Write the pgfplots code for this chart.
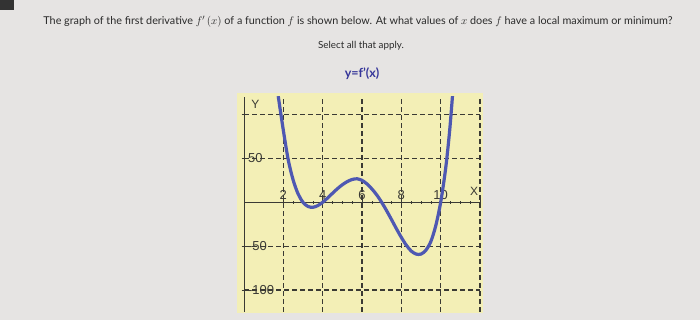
\documentclass[border=0pt]{standalone}
\usepackage{pgfplots}
\pgfplotsset{compat=1.18}
\usepackage{fontspec}
\setmainfont{Lato}
\newfontfamily\arialf{Liberation Sans}
\definecolor{bgc}{HTML}{E6E4E3}
\definecolor{ylw}{HTML}{F3EFB6}
\definecolor{curve}{HTML}{4E58B2}
\definecolor{gridc}{HTML}{3A3A34}
\definecolor{txt}{HTML}{2A2A2A}
\definecolor{ttl}{HTML}{36369A}
\begin{document}
\begin{tikzpicture}[x=1pt,y=1pt]
\fill[bgc] (0,0) rectangle (700,320);
\path[use as bounding box] (0,0) rectangle (700,320);
\fill[black!80] (0,310) rectangle (14,320);
\fill[ylw] (237,7) rectangle (483,227);
\node[txt, font=\fontsize{10.8}{12}\selectfont] at (358,298) {The graph of the first derivative $f'\,(x)$ of a function $f$ is shown below. At what values of $x$ does $f$ have a local maximum or minimum?};
\node[txt, font=\fontsize{9.8}{11}\selectfont] at (361,274) {Select all that apply.};
\node[ttl, font=\fontsize{12.5}{14}\selectfont\bfseries] at (362,246) {y=f'(x)};
\begin{axis}[
  at={(244pt,8pt)}, anchor=south west,
  scale only axis, width=236pt, height=215pt,
  xmin=0, xmax=12, ymin=-125, ymax=120,
  axis lines=middle,
  axis line style={-, gridc, line width=1pt},
  xtick={2,4,6,8,10,12},
  xticklabels={2,4,6,8,10,},
  ytick={-100,-50,50,100},
  yticklabels={-100,-50,50,},
  minor x tick num=3,
  minor y tick num=4,
  tick align=center,
  major tick length=5pt,
  minor tick length=3pt,
  tick style={gridc, line width=0.6pt},
  grid=major,
  major grid style={gridc, line width=1.3pt, dash pattern=on 5pt off 3pt},
  /pgf/number format/assume math mode=true,
  ticklabel style={font=\arialf\fontsize{13}{14}\selectfont, text=gridc},
  xticklabel style={anchor=south, yshift=2pt},
  yticklabel style={anchor=west, xshift=3pt},
  clip=true,
]
\addplot[curve, line width=3.2pt, smooth] coordinates {
(1.74,121) (2.0,82) (2.25,48.3) (2.5,25.3) (2.75,9.6) (3.0,0) (3.25,-4.7) (3.5,-5.7) (3.75,-3.8)
(4.0,0) (4.25,4.9) (4.5,10.3) (4.75,15.5) (5.0,20) (5.25,23.6) (5.5,26) (5.75,26.8) (6.0,25)
(6.25,21) (6.5,15.3) (6.75,8.4) (7.0,0) (7.25,-9.5) (7.5,-19.7) (7.75,-30.1) (8.0,-40)
(8.25,-48.8) (8.5,-55.5) (8.75,-59) (9.0,-59) (9.25,-54.5) (9.5,-44.7) (9.75,-26.7) (10.0,0)
(10.25,38) (10.45,80) (10.6,121)
};
\node[anchor=west, font=\arialf\fontsize{12}{12}\selectfont, text=gridc] at (axis cs:0.2,112) {Y};
\node[font=\arialf\fontsize{12}{12}\selectfont, text=gridc] at (axis cs:11.7,12) {X};
\end{axis}
\end{tikzpicture}
\end{document}
